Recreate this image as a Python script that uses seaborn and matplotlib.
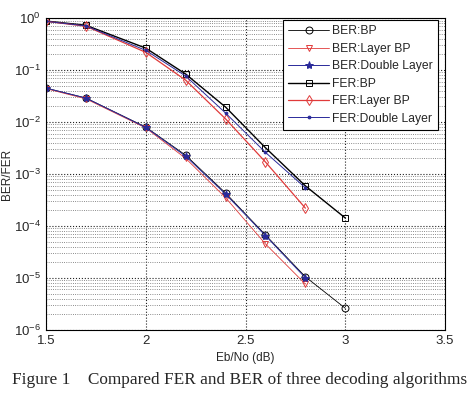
import matplotlib
matplotlib.use("Agg")
import matplotlib.pyplot as plt
import matplotlib.ticker as mticker
import seaborn as sns
import pandas as pd

# Eb/No points (dB)
snr = [1.5, 1.7, 2.0, 2.2, 2.4, 2.6, 2.8, 3.0]

ber_bp = [0.045, 0.029, 0.0080, 0.0023, 4.3e-4, 6.7e-5, 1.05e-5, 2.6e-6]
ber_layer = [0.044, 0.028, 0.0077, 0.0020, 3.5e-4, 4.5e-5, 7.6e-6]
ber_double = [0.045, 0.029, 0.0079, 0.0022, 4.1e-4, 6.5e-5, 1.0e-5]
fer_bp = [0.88, 0.73, 0.265, 0.084, 0.0194, 0.0032, 5.9e-4, 1.42e-4]
fer_layer = [0.87, 0.70, 0.22, 0.064, 0.0115, 0.0017, 2.2e-4]
fer_double = [0.87, 0.71, 0.24, 0.077, 0.0149, 0.0026, 5.4e-4]

labels = ["BER:BP", "BER:Layer BP", "BER:Double Layer",
          "FER:BP", "FER:Layer BP", "FER:Double Layer"]
series = [ber_bp, ber_layer, ber_double, fer_bp, fer_layer, fer_double]
colors = ["black", "#e03a3a", "#2a2a9a", "black", "#e03a3a", "#2a2a9a"]
markers = ["o", "v", "*", "s", "d", "."]
msizes = [5, 5, 6, 5, 5, 4]
lwidths = [0.6, 0.6, 0.7, 1.0, 0.9, 0.7]

sns.set_style("white")
plt.rcParams["font.family"] = ["Liberation Sans", "DejaVu Sans"]
plt.rcParams["mathtext.fontset"] = "custom"
plt.rcParams["mathtext.rm"] = "Liberation Sans"
plt.rcParams["mathtext.it"] = "Liberation Sans"

fig = plt.figure(figsize=(4.74, 3.95), dpi=100)
ax = fig.add_axes([0.097, 0.165, 0.842, 0.789])

for lab, vals, c, m, ms, lw in zip(labels, series, colors, markers, msizes, lwidths):
    df = pd.DataFrame({"x": snr[:len(vals)], "y": vals})
    mfc = c if m in ("*", ".") else "none"
    sns.lineplot(data=df, x="x", y="y", ax=ax, color=c, marker=m, markersize=ms,
                 markerfacecolor=mfc, markeredgecolor=c, markeredgewidth=0.7,
                 linewidth=lw, label=lab)

ax.set_yscale("log")
ax.set_xlim(1.5, 3.5)
ax.set_ylim(1e-6, 1)
ax.set_xticks([1.5, 2, 2.5, 3, 3.5])
ax.set_xticklabels(["1.5", "2", "2.5", "3", "3.5"])
ax.yaxis.set_minor_locator(mticker.LogLocator(base=10, subs=range(2, 10), numticks=20))
ax.yaxis.set_minor_formatter(mticker.NullFormatter())
ax.set_yticks([1e-6, 1e-5, 1e-4, 1e-3, 1e-2, 1e-1, 1])
ax.set_yticklabels([r"$10^{-6}$", r"$10^{-5}$", r"$10^{-4}$", r"$10^{-3}$",
                    r"$10^{-2}$", r"$10^{-1}$", r"$10^{0}$"])

ax.grid(True, which="major", linestyle=":", color="#222222", linewidth=0.8)
ax.grid(True, which="minor", axis="y", linestyle=":", color="#666666", linewidth=0.6)
ax.tick_params(axis="both", which="both", direction="in", labelsize=9.5, color="black")
ax.tick_params(which="major", length=4)
ax.tick_params(which="minor", length=2)
for s in ax.spines.values():
    s.set_color("black")
    s.set_linewidth(0.8)

ax.set_xlabel("Eb/No (dB)", fontsize=8.5, labelpad=4)
ax.set_ylabel("BER/FER", fontsize=8.5, labelpad=1)

leg = ax.legend(loc="upper right", bbox_to_anchor=(0.982, 0.994), fontsize=8.7,
                frameon=True, fancybox=False, edgecolor="black", framealpha=1,
                handlelength=3.4, handletextpad=0.2, labelspacing=0.45,
                borderpad=0.45, borderaxespad=0)
leg.get_frame().set_linewidth(0.8)

fig.text(0.026, 0.038, "Figure 1    Compared FER and BER of three decoding algorithms",
         fontsize=12.4, family="Liberation Serif", ha="left", va="center")

fig.savefig("out.png", dpi=100)
